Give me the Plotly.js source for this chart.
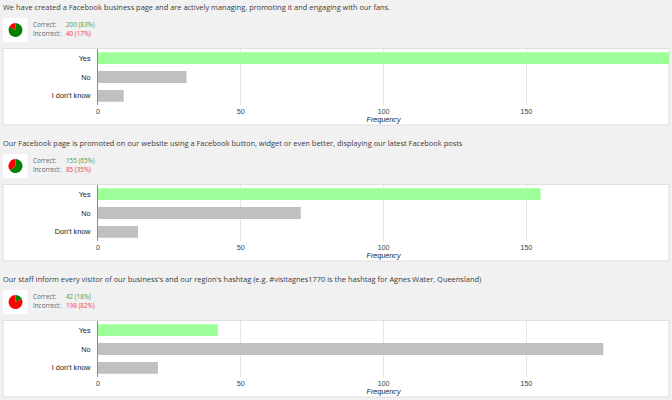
<!DOCTYPE html>
<html>
<head>
<meta charset="utf-8">
<script src="https://cdn.plot.ly/plotly-3.0.1.min.js"></script>
<style>
  body { margin: 0; background: #f1f1f1; }
  #chart { width: 672px; height: 400px; }
</style>
</head>
<body>
<div id="chart"></div>
<script>
var questions = [
  'We have created a Facebook business page and are actively managing, promoting it and engaging with our fans.',
  'Our Facebook page is promoted on our website using a Facebook button, widget or even better, displaying our latest Facebook posts',
  "Our staff inform every visitor of our business's and our region's hashtag (e.g. #visitagnes1770 is the hashtag for Agnes Water, Queensland)"
];
var answers1 = ['Yes', 'No', "I don't know"];
var answers2 = ['Yes', 'No', "Don't know"];
var answers3 = ['Yes', 'No', "I don't know"];
var frequency1 = [200, 31, 9];
var frequency2 = [155, 71, 14];
var frequency3 = [42, 177, 21];
var correctCounts = [200, 155, 42];
var incorrectCounts = [40, 85, 198];
var correctPercent = [83, 65, 18];
var incorrectPercent = [17, 35, 82];
var tickValues = [0, 50, 100, 150];
var axisRange = [0, 200];

var WIDTH = 672;
var HEIGHT = 400;
var STEP = 136; // vertical distance between two question blocks

// pixel -> paper coords
function px(v) { return v / WIDTH; }
function py(v) { return 1 - v / HEIGHT; }

function renderQuiz() {
  var answers = [answers1, answers2, answers3];
  var frequencies = [frequency1, frequency2, frequency3];
  var data = [];
  var shapes = [];
  var annotations = [];
  var layout = {
    width: WIDTH,
    height: HEIGHT,
    margin: {l: 0, r: 0, t: 0, b: 0},
    paper_bgcolor: '#f1f1f1',
    plot_bgcolor: 'rgba(0,0,0,0)',
    showlegend: false,
    bargap: 0.37
  };

  for (var i = 0; i < questions.length; i++) {
    var off = i * STEP;
    var sfx = i === 0 ? '' : String(i + 1);

    // white panel behind the bar chart
    shapes.push({
      type: 'rect', xref: 'paper', yref: 'paper', layer: 'below',
      x0: px(3), x1: px(669), y0: py(125 + off), y1: py(48.5 + off),
      fillcolor: '#ffffff', line: {color: '#dedede', width: 1}
    });
    // white square behind the pie
    shapes.push({
      type: 'rect', xref: 'paper', yref: 'paper', layer: 'below',
      x0: px(3), x1: px(27.5), y0: py(42 + off), y1: py(18 + off),
      fillcolor: '#ffffff', line: {width: 0}
    });

    // annotations have ~2px of padding, so x is shifted left a bit
    annotations.push({
      xref: 'paper', yref: 'paper', x: px(1), y: py(7.3 + off),
      xanchor: 'left', yanchor: 'middle', showarrow: false,
      text: questions[i],
      font: {family: 'Open Sans', size: 7.45, color: '#3c3c3c'}
    });
    annotations.push({
      xref: 'paper', yref: 'paper', x: px(31), y: py(24.7 + off),
      xanchor: 'left', yanchor: 'middle', showarrow: false,
      text: 'Correct:', font: {family: 'Open Sans', size: 6.3, color: '#666'}
    });
    annotations.push({
      xref: 'paper', yref: 'paper', x: px(31), y: py(33.7 + off),
      xanchor: 'left', yanchor: 'middle', showarrow: false,
      text: 'Incorrect:', font: {family: 'Open Sans', size: 6.3, color: '#666'}
    });
    annotations.push({
      xref: 'paper', yref: 'paper', x: px(64), y: py(24.7 + off),
      xanchor: 'left', yanchor: 'middle', showarrow: false,
      text: correctCounts[i] + ' (' + correctPercent[i] + '%)',
      font: {family: 'Open Sans', size: 6.3, color: '#4b9a4b'}
    });
    annotations.push({
      xref: 'paper', yref: 'paper', x: px(64), y: py(33.7 + off),
      xanchor: 'left', yanchor: 'middle', showarrow: false,
      text: incorrectCounts[i] + ' (' + incorrectPercent[i] + '%)',
      font: {family: 'Open Sans', size: 6.3, color: '#ee3552'}
    });

    data.push({
      type: 'pie',
      values: [correctCounts[i], incorrectCounts[i]],
      labels: ['Correct', 'Incorrect'],
      marker: {colors: ['#008000', '#ff0000']},
      sort: false,
      direction: 'clockwise',
      rotation: 0,
      textinfo: 'none',
      hoverinfo: 'label+value',
      domain: {x: [px(8.5), px(22.5)], y: [py(37 + off), py(23 + off)]}
    });

    var colors = [];
    for (var k = 0; k < answers[i].length; k++) {
      colors.push(k === 0 ? '#9cff9a' : '#c0c0c0');
    }
    data.push({
      type: 'bar',
      orientation: 'h',
      x: frequencies[i],
      y: answers[i],
      xaxis: 'x' + sfx,
      yaxis: 'y' + sfx,
      marker: {color: colors},
      hoverinfo: 'x+y'
    });

    layout['xaxis' + sfx] = {
      anchor: 'y' + sfx,
      domain: [px(98), px(669)],
      range: axisRange,
      tickvals: tickValues,
      ticks: '',
      showline: false,
      zeroline: false,
      showgrid: true,
      gridcolor: '#e6e6e6',
      tickfont: {family: 'Liberation Sans', size: 7.3, color: '#444'},
      title: {text: 'Frequency', standoff: 2,
              font: {family: 'Liberation Sans', size: 7.2, color: '#222', style: 'italic'}},
      fixedrange: true
    };
    layout['yaxis' + sfx] = {
      anchor: 'x' + sfx,
      domain: [py(105.2 + off), py(48.8 + off)],
      type: 'category',
      autorange: 'reversed',
      showgrid: false,
      zeroline: false,
      showline: true,
      linecolor: '#8a8a8a',
      linewidth: 1,
      ticks: '',
      ticklabelstandoff: 5,
      tickfont: {family: 'Liberation Sans', size: 7.3, color: '#222'},
      fixedrange: true
    };
  }

  layout.shapes = shapes;
  layout.annotations = annotations;
  Plotly.newPlot('chart', data, layout, {displayModeBar: false, staticPlot: true});
}

renderQuiz();
</script>
</body>
</html>
